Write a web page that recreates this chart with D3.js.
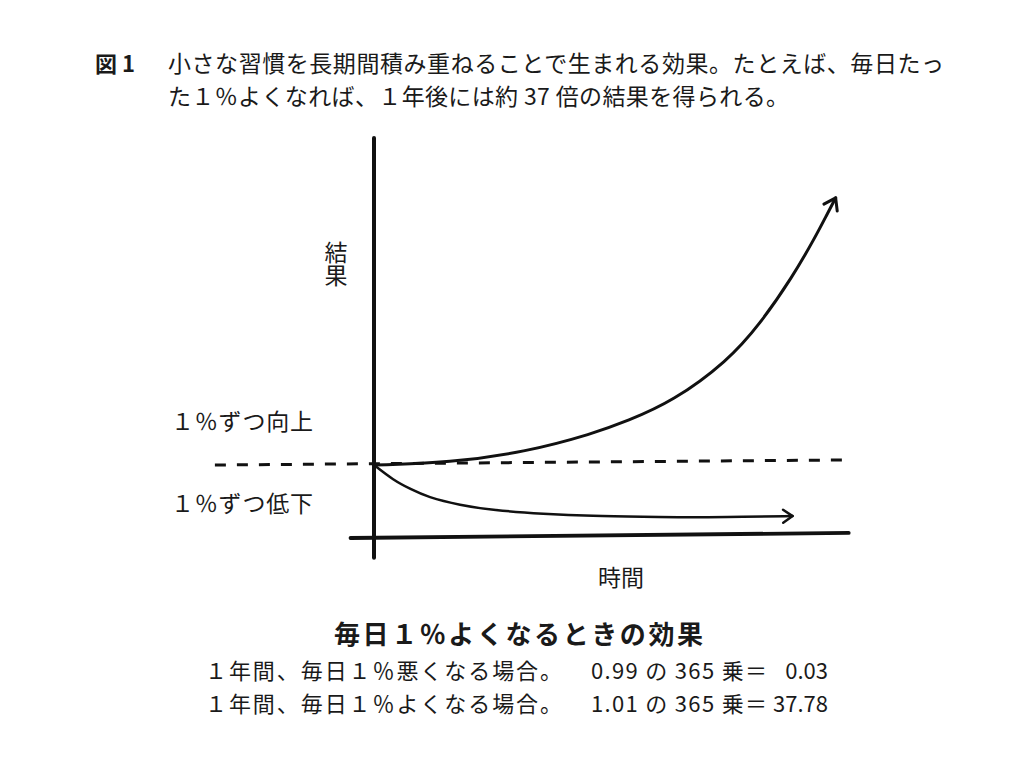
<!DOCTYPE html>
<html><head><meta charset="utf-8">
<script src="https://cdn.jsdelivr.net/npm/d3@7"></script>
<style>
html,body{margin:0;padding:0;background:#fff;}
svg{display:block;}
text{font-family:"Noto Sans CJK JP","Noto Sans",sans-serif;fill:#1a1a1a;}
</style></head><body>
<svg id="chart" width="1024" height="775"></svg>
<script>
// ---- data (time in days, result relative to start = 1) ----
const upDays     = [0, 58, 117, 168, 194, 229, 271, 296, 321, 338, 347, 354];
const upValues   = [1.00, 1.03, 1.18, 1.43, 1.60, 1.87, 2.42, 2.93, 3.58, 4.11, 4.42, 4.66];
const downDays   = [0, 15, 28, 41, 66, 91, 130, 168, 206, 245, 283, 321];
const downValues = [1.00, 0.79, 0.67, 0.56, 0.45, 0.38, 0.33, 0.30, 0.29, 0.28, 0.29, 0.30];
const baseDays   = [-122, 367];
const baseValues = [1.00, 1.07];
const xAxisDays   = [-18, 364];
const xAxisValues = [0, 0.07];
const yAxisDays   = [0, 0];
const yAxisValues = [5.48, -0.27];

const captionLines = ["小さな習慣を長期間積み重ねることで生まれる効果。たとえば、毎日たっ",
                      "た１％よくなれば、１年後には約 37 倍の結果を得られる。"];
const figLabel = "図1";
const yLabel = "結果";
const xLabel = "時間";
const upLabel = "１％ずつ向上";
const downLabel = "１％ずつ低下";
const tableTitle = "毎日１％よくなるときの効果";
const rowLabels = ["１年間、毎日１％悪くなる場合。", "１年間、毎日１％よくなる場合。"];
const rowExprs  = ["0.99 の 365 乗＝", "1.01 の 365 乗＝"];
const rowResults = ["0.03", "37.78"];

// ---- drawing ----
const svg = d3.select("#chart");
const x = d3.scaleLinear().domain([0, 365]).range([374, 850]);
const y = d3.scaleLinear().domain([0, 5]).range([538, 173]);

const zip = (a, b) => a.map((d, i) => [d, b[i]]);
const straight = d3.line().x(d => x(d[0])).y(d => y(d[1]));
const smooth = d3.line().x(d => x(d[0])).y(d => y(d[1])).curve(d3.curveBasis);

const defs = svg.append("defs");
function arrowMarker(id, len, half, sw) {
  defs.append("marker").attr("id", id)
    .attr("markerUnits", "userSpaceOnUse")
    .attr("viewBox", `${-len - 4} ${-half - 4} ${len + 8} ${2 * half + 8}`)
    .attr("markerWidth", len + 8).attr("markerHeight", 2 * half + 8)
    .attr("refX", 0).attr("refY", 0).attr("orient", "auto")
    .append("path").attr("d", `M${-len},${-half} L0,0 L${-len},${half}`)
    .attr("fill", "none").attr("stroke", "#111").attr("stroke-width", sw)
    .attr("stroke-linecap", "round").attr("stroke-linejoin", "round");
}
arrowMarker("arrUp", 11, 7.5, 3);
arrowMarker("arrDown", 9.5, 6.5, 2.5);

// axes
svg.append("path").attr("d", straight(zip(yAxisDays, yAxisValues)))
  .attr("stroke", "#111").attr("stroke-width", 4).attr("fill", "none").attr("stroke-linecap", "round");
svg.append("path").attr("d", straight(zip(xAxisDays, xAxisValues)))
  .attr("stroke", "#111").attr("stroke-width", 3.8).attr("fill", "none").attr("stroke-linecap", "round");
// baseline (dashed)
svg.append("path").attr("d", straight(zip(baseDays, baseValues)))
  .attr("stroke", "#111").attr("stroke-width", 3).attr("fill", "none")
  .attr("stroke-dasharray", "11 11");
// curves
svg.append("path").attr("d", smooth(zip(upDays, upValues)))
  .attr("stroke", "#111").attr("stroke-width", 3).attr("fill", "none")
  .attr("stroke-linecap", "round").attr("marker-end", "url(#arrUp)");
svg.append("path").attr("d", smooth(zip(downDays, downValues)))
  .attr("stroke", "#111").attr("stroke-width", 2.5).attr("fill", "none")
  .attr("stroke-linecap", "round").attr("marker-end", "url(#arrDown)");

// text helper
function txt(s, px, py, size, opts = {}) {
  const t = svg.append("text").attr("x", px).attr("y", py)
    .attr("font-size", size).text(s);
  if (opts.bold) t.attr("font-weight", 700);
  if (opts.anchor) t.attr("text-anchor", opts.anchor);
  if (opts.len) t.attr("textLength", opts.len).attr("lengthAdjust", "spacing");
  return t;
}

// caption
txt(figLabel, 95, 72, 22, {bold: true, len: 40});
txt(captionLines[0], 168, 72, 23, {len: 776});
txt(captionLines[1], 168, 105, 23, {len: 621});

// axis labels
txt(yLabel, 336, 241, 23).style("writing-mode", "vertical-rl");
txt(xLabel, 621, 586, 23, {anchor: "middle"});
txt(upLabel, 171, 430, 23, {len: 142});
txt(downLabel, 171, 512, 23, {len: 142});

// table
txt(tableTitle, 334, 644, 26, {bold: true, len: 369});
rowLabels.forEach((s, i) => {
  const by = 679 + i * 33;
  txt(s, 205, by, 22, {len: 357});
  txt(rowExprs[i], 591, by, 22, {len: 176});
  txt(rowResults[i], 828, by, 22, {anchor: "end"});
});
</script>
</body></html>
